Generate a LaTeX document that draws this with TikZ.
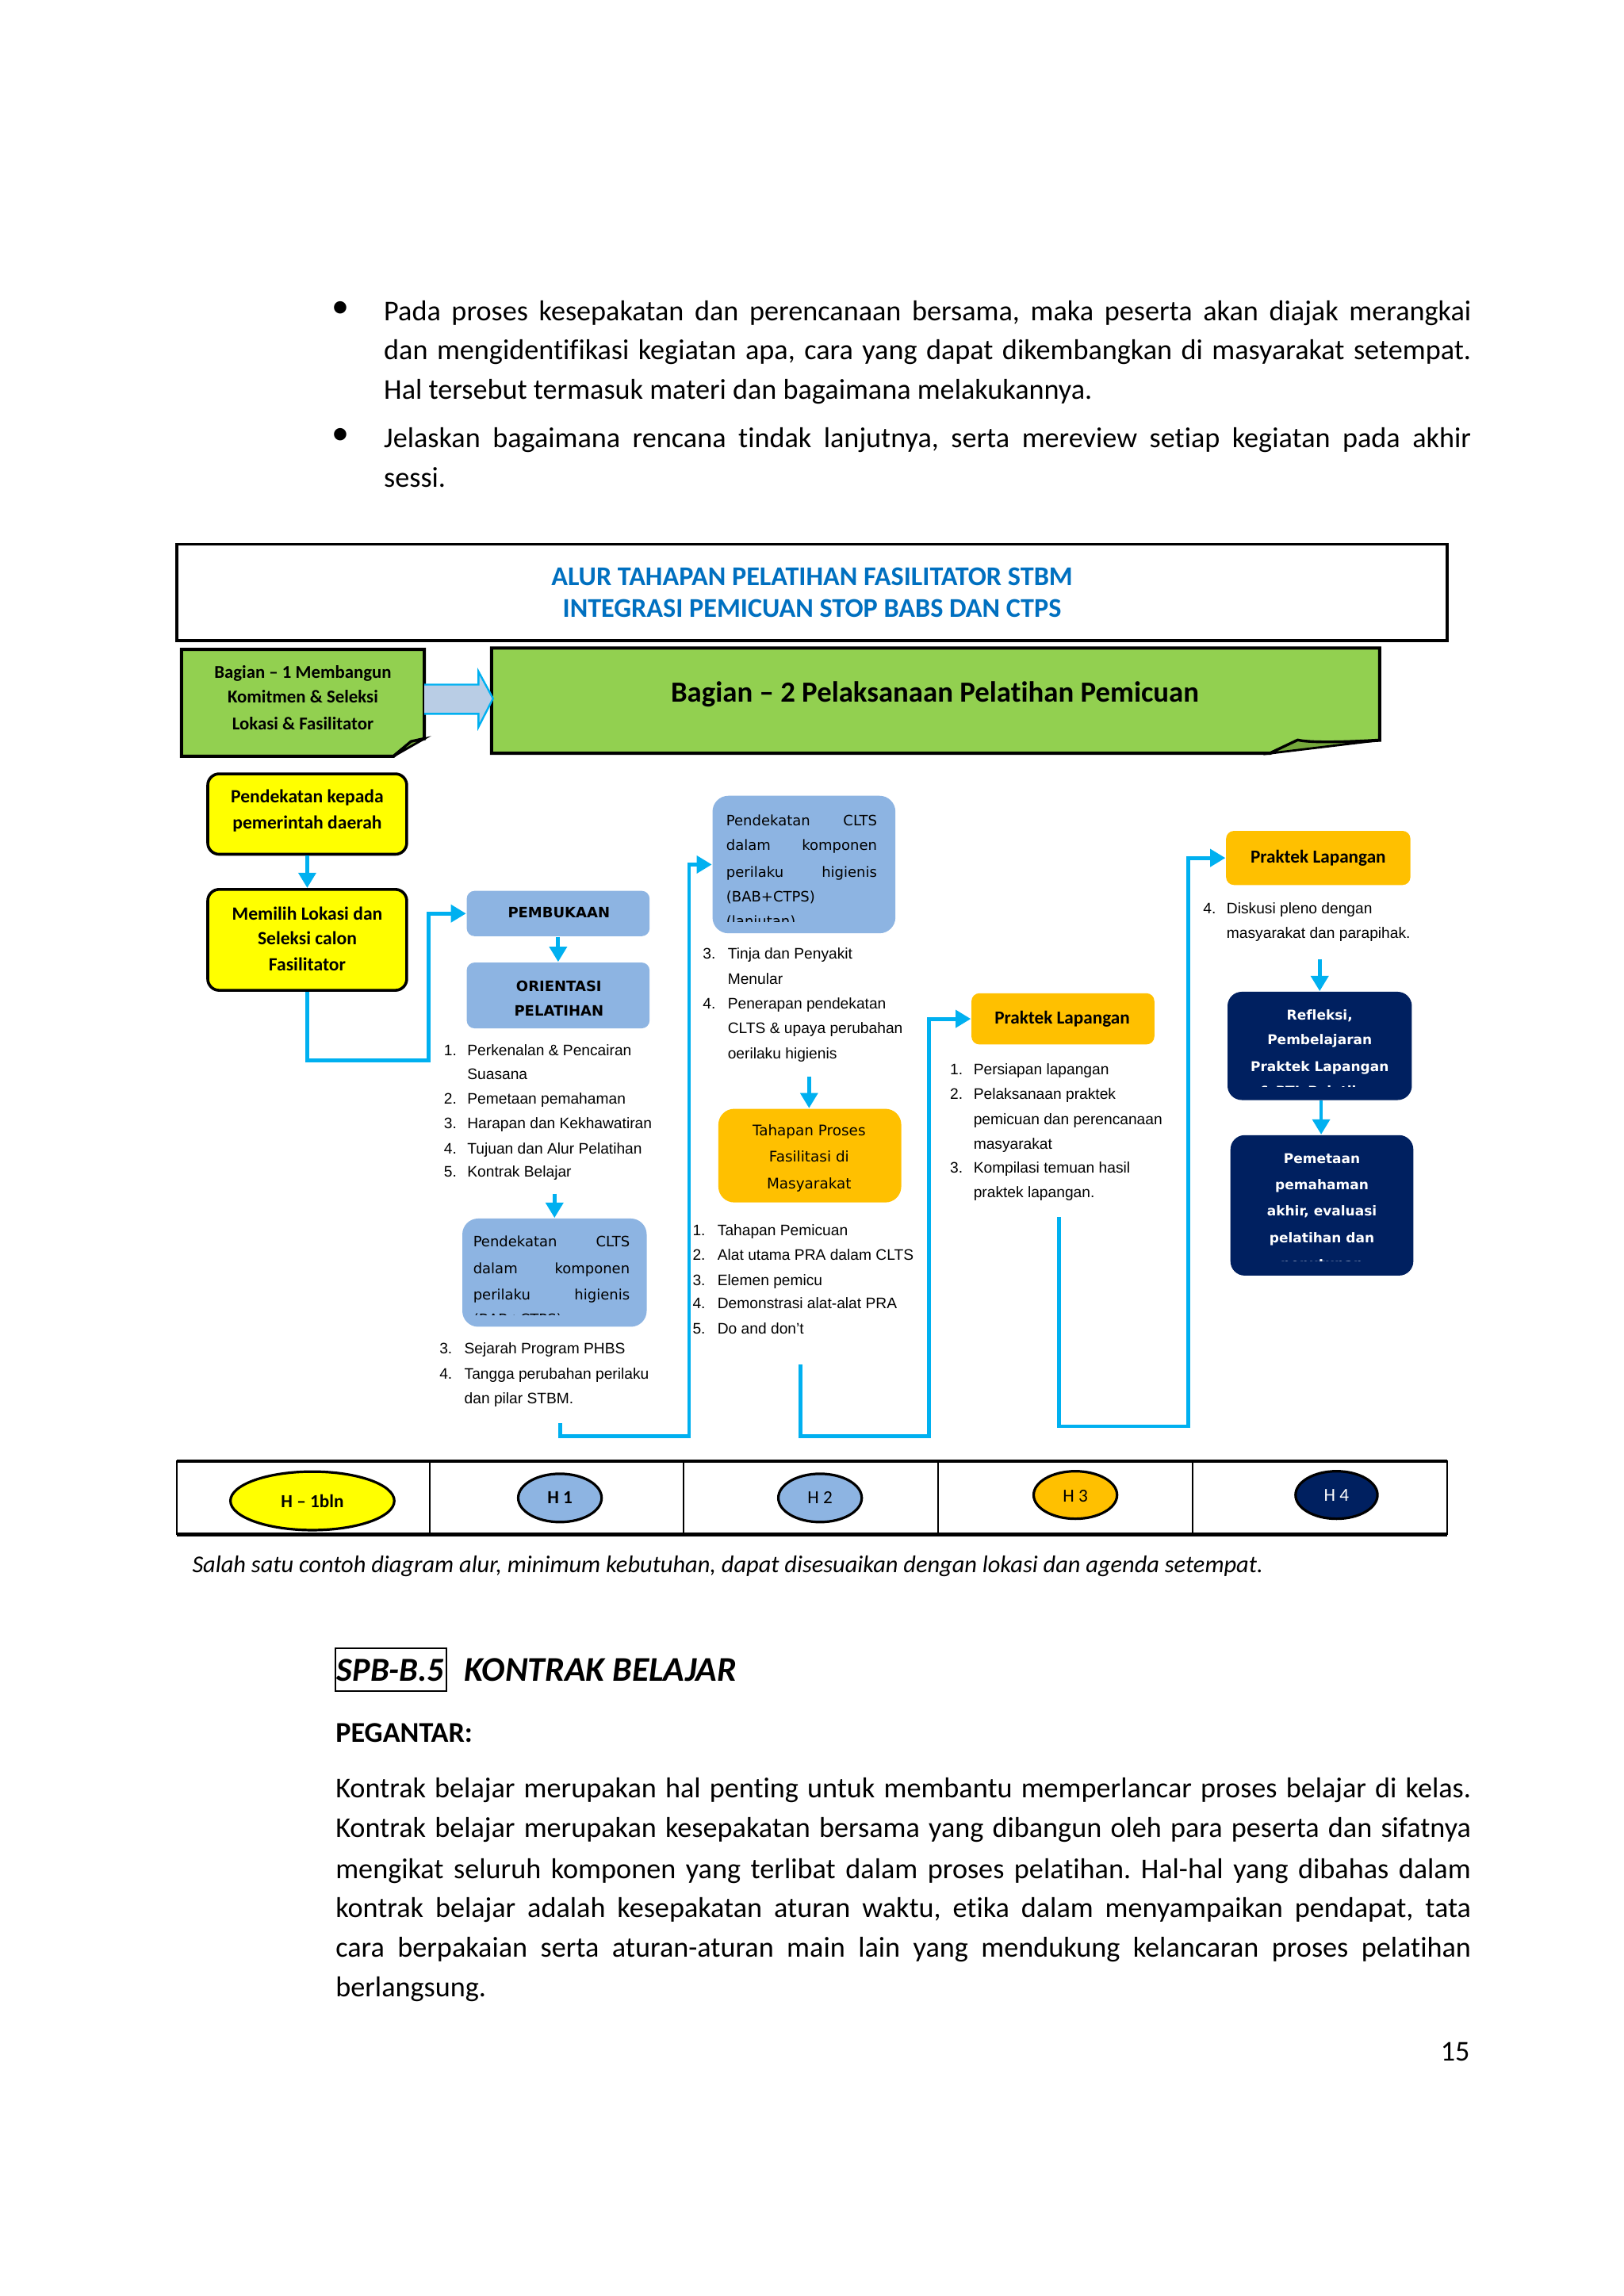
\documentclass[tikz,border=0pt]{standalone}
\usepackage{fontspec}
\setmainfont{Carlito}[Ligatures={TeX,NoCommon}]
\newfontfamily\arialf{Liberation Sans}[Ligatures={TeX,NoCommon}]
\newfontfamily\verdf{DejaVu Sans}[Ligatures={TeX,NoCommon}]
\usetikzlibrary{arrows.meta,fit,shapes.geometric}
\newdimen\upx \upx=0.46126pt
\newcommand\fs[2]{\fontsize{#1pt}{#2pt}\selectfont}
\frenchspacing
\definecolor{cgreen}{RGB}{146,208,80}
\definecolor{cfold}{RGB}{118,168,60}
\definecolor{cyel}{RGB}{255,255,0}
\definecolor{cblue}{RGB}{141,180,226}
\definecolor{corange}{RGB}{255,192,0}
\definecolor{cnavy}{RGB}{0,32,96}
\definecolor{carrow}{RGB}{0,176,240}
\definecolor{ctitle}{RGB}{0,112,192}
\definecolor{cblock}{RGB}{185,205,229}
\tikzset{
  txt/.style={inner sep=0pt, anchor=base west},
  body/.style={txt, font=\frenchspacing\fs{9.05}{12.45}},
  ctr/.style={inner sep=0pt, anchor=base},
  lst/.style={txt, font=\arialf\fs{4.8}{7.7}},
  conn/.style={draw=carrow, line width=1.2pt},
  arr/.style={conn, -{Triangle[width=5.4pt,length=4.8pt]}},
  ybox/.style={draw=black, line width=0.9pt, fill=cyel, rounded corners=3.6pt, inner sep=0pt},
  bbox/.style={fill=cblue, rounded corners=#1, inner sep=0pt},
  bbox/.default=2.5pt,
  obox/.style={fill=corange, rounded corners=#1, inner sep=0pt},
  obox/.default=2.5pt,
  nbox/.style={fill=cnavy, rounded corners=4.5pt, inner sep=0pt},
  ytext/.style={ctr, font=\bfseries\fs{5.9}{8}},
  gtext/.style={ctr, font=\bfseries\fs{5.7}{8}},
  vbold/.style={ctr, font=\verdf\bfseries\fs{4.5}{7}},
  vtext/.style={txt, font=\verdf\fs{4.5}{7}},
  vctr/.style={ctr, font=\verdf\fs{4.6}{7}},
  ntext/.style={ctr, font=\verdf\bfseries\fs{4.25}{7}, text=white},
  pltext/.style={ctr, font=\bfseries\fs{5.8}{8}},
  hell/.style={ellipse, draw=black, line width=0.8pt, inner sep=0pt},
}
\newcommand\litem[6]{\node[lst] (#1n) at (#2,#4+3.7) {#5}; \node[lst] (#1) at (#3,#4+3.7) {#6};}
\newcommand\lcont[4]{\node[lst] (#1) at (#2,#3+3.7) {#4};}
\begin{document}
\begin{tikzpicture}[x=0.46126pt,y=-0.46126pt]
\useasboundingbox (0,0) rectangle (1110,1569.6);
\fill[white] (0,0) rectangle (1110,1569.6);

% ---------- top bullets ----------
\node[ctr, font=\fs{11}{11}] (bul1) at (233,217) {•};
\node[body] (p1) at (262,219) {\makebox[743\upx][s]{Pada proses kesepakatan dan perencanaan bersama, maka peserta akan diajak merangkai}};
\node[body] (p2) at (262,246) {\makebox[743\upx][s]{dan mengidentifikasi kegiatan apa, cara yang dapat dikembangkan di masyarakat setempat.}};
\node[body] (p3) at (262,273) {Hal tersebut termasuk materi dan bagaimana melakukannya.};
\node[ctr, font=\fs{11}{11}] (bul2) at (233,304) {•};
\node[body] (p4) at (262,306) {\makebox[743\upx][s]{Jelaskan bagaimana rencana tindak lanjutnya, serta mereview setiap kegiatan pada akhir}};
\node[body] (p5) at (262,333) {sessi.};

% ---------- title ----------
\node[draw=black, line width=0.9pt, fit={(121,372) (989,438)}, inner sep=0pt] (titlebox) {};
\node[inner sep=0pt, font=\bfseries\fs{8.55}{10}, text=ctitle] (title1) at (555,394) {ALUR TAHAPAN PELATIHAN FASILITATOR STBM};
\node[inner sep=0pt, font=\bfseries\fs{8.55}{10}, text=ctitle] (title2) at (555,416) {INTEGRASI PEMICUAN STOP BABS DAN CTPS};

% ---------- Bagian 1 / 2 ----------
\filldraw[fill=cgreen, draw=black, line width=1pt] (124,444) -- (290,444) -- (290,505) -- (281,507) -- (269,517) -- (124,517) -- cycle;
\filldraw[fill=cfold, draw=black, line width=0.7pt] (269,517) -- (281,507) -- (290,505) -- cycle;
\node[gtext] (b1t1) at (207,463.7) {Bagian – 1 Membangun};
\node[gtext] (b1t2) at (207,480.7) {Komitmen \& Seleksi};
\node[gtext] (b1t3) at (207,498.7) {Lokasi \& Fasilitator};

\filldraw[fill=cgreen, draw=black, line width=1pt] (336,443) -- (943,443) -- (943,506) .. controls (920,507.5) and (895,508) .. (887,506) -- (868,515) -- (336,515) -- cycle;
\filldraw[fill=cfold, draw=black, line width=0.7pt] (868,515) -- (887,506) .. controls (895,508) and (920,507.5) .. (943,506) -- cycle;
\node[ctr, font=\bfseries\fs{9.2}{11}] (b2t) at (639,480) {Bagian – 2 Pelaksanaan Pelatihan Pemicuan};

\fill[cblock] (290,468) -- (327,468) -- (327,459) -- (337,477.5) -- (327,497) -- (327,488) -- (290,488) -- cycle;
\draw[carrow, line width=0.6pt] (290,468) -- (327,468) -- (327,459) -- (337,477.5) -- (327,497) -- (327,488) -- (290,488);

% ---------- column 1 ----------
\node[ybox, fit={(142,529) (278,584)}] (y1) {};
\node[ytext] (y1t1) at (210,548.8) {Pendekatan kepada};
\node[ytext] (y1t2) at (210,566.8) {pemerintah daerah};
\node[ybox, fit={(142,608) (278,677)}] (y2) {};
\node[ytext] (y2t1) at (210,628.8) {Memilih Lokasi dan};
\node[ytext] (y2t2) at (210,645.8) {Seleksi calon};
\node[ytext] (y2t3) at (210,663.8) {Fasilitator};

% ---------- column 2 ----------
\node[bbox, fit={(319,609) (444,640)}] (pemb) {};
\node[vbold] (pembt) at (382,627.6) {PEMBUKAAN};
\node[bbox, fit={(319,658) (444,703)}] (orient) {};
\node[vbold] (ort1) at (382,677.6) {ORIENTASI};
\node[vbold] (ort2) at (382,694.6) {PELATIHAN};

\litem{la1}{303}{319}{718}{1.}{Perkenalan \& Pencairan}
\lcont{la1b}{319}{734}{Suasana}
\litem{la2}{303}{319}{751}{2.}{Pemetaan pemahaman}
\litem{la3}{303}{319}{768}{3.}{Harapan dan Kekhawatiran}
\litem{la4}{303}{319}{785}{4.}{Tujuan dan Alur Pelatihan}
\litem{la5}{303}{319}{801}{5.}{Kontrak Belajar}

\node[bbox=5pt, fit={(316,833) (442,907)}] (blueA) {};
\begin{scope}
\clip (316,833) rectangle (442,899);
\node[vtext] (ba1) at (323,852.5) {\makebox[107\upx][s]{Pendekatan CLTS}};
\node[vtext] (ba2) at (323,870.5) {\makebox[107\upx][s]{dalam komponen}};
\node[vtext] (ba3) at (323,888.5) {\makebox[107\upx][s]{perilaku higienis}};
\node[vtext] (ba4) at (323,905.5) {(BAB+CTPS)};
\end{scope}

\litem{lb1}{300}{317}{922}{3.}{Sejarah Program PHBS}
\litem{lb2}{300}{317}{939}{4.}{Tangga perubahan perilaku}
\lcont{lb2b}{317}{956}{dan pilar STBM.}

% ---------- column 3 ----------
\node[bbox=5pt, fit={(487,544) (612,638)}] (blueB) {};
\begin{scope}
\clip (487,544) rectangle (612,630);
\node[vtext] (bb1) at (496,564.5) {\makebox[103\upx][s]{Pendekatan CLTS}};
\node[vtext] (bb2) at (496,581.5) {\makebox[103\upx][s]{dalam komponen}};
\node[vtext] (bb3) at (496,599.5) {\makebox[103\upx][s]{perilaku higienis}};
\node[vtext] (bb4) at (496,616.5) {(BAB+CTPS)};
\node[vtext] (bb5) at (496,633.5) {(lanjutan)};
\end{scope}

\litem{lc1}{480}{497}{652}{3.}{Tinja dan Penyakit}
\lcont{lc1b}{497}{669}{Menular}
\litem{lc2}{480}{497}{686}{4.}{Penerapan pendekatan}
\lcont{lc2b}{497}{703}{CLTS \& upaya perubahan}
\lcont{lc2c}{497}{720}{oerilaku higienis}

\node[obox=5pt, fit={(491,758) (616,822)}] (tahap) {};
\node[vctr] (tp1) at (553,776.5) {Tahapan Proses};
\node[vctr] (tp2) at (553,794.5) {Fasilitasi di};
\node[vctr] (tp3) at (553,812.5) {Masyarakat};

\litem{ld1}{473}{490}{841}{1.}{Tahapan Pemicuan}
\litem{ld2}{473}{490}{858}{2.}{Alat utama PRA dalam CLTS}
\litem{ld3}{473}{490}{875}{3.}{Elemen pemicu}
\litem{ld4}{473}{490}{891}{4.}{Demonstrasi alat-alat PRA}
\litem{ld5}{473}{490}{908}{5.}{Do and don’t}

% ---------- column 4 ----------
\node[obox, fit={(664,679) (789,714)}] (pl1) {};
\node[pltext] (pl1t) at (726,699.8) {Praktek Lapangan};
\litem{le1}{649}{665}{731}{1.}{Persiapan lapangan}
\litem{le2}{649}{665}{748}{2.}{Pelaksanaan praktek}
\lcont{le2b}{665}{765}{pemicuan dan perencanaan}
\lcont{le2c}{665}{782}{masyarakat}
\litem{le3}{649}{665}{798}{3.}{Kompilasi temuan hasil}
\lcont{le3b}{665}{815}{praktek lapangan.}

% ---------- column 5 ----------
\node[obox, fit={(838,568) (964,605)}] (pl2) {};
\node[pltext] (pl2t) at (901,589.8) {Praktek Lapangan};
\litem{lf1}{822}{838}{621}{4.}{Diskusi pleno dengan}
\lcont{lf1b}{838}{638}{masyarakat dan parapihak.}

\node[nbox, fit={(839,678) (965,752)}] (nav1) {};
\begin{scope}
\clip (839,678) rectangle (965,743);
\node[ntext] (nv1) at (902,697.3) {Refleksi,};
\node[ntext] (nv2) at (902,714.3) {Pembelajaran};
\node[ntext] (nv3) at (902,732.3) {Praktek Lapangan};
\node[ntext] (nv4) at (902,749.3) {\& RTL Pelatihan};
\end{scope}
\node[nbox, fit={(841,776) (966,872)}] (nav2) {};
\begin{scope}
\clip (841,776) rectangle (966,862);
\node[ntext] (nw1) at (903.5,795.3) {Pemetaan};
\node[ntext] (nw2) at (903.5,813.3) {pemahaman};
\node[ntext] (nw3) at (903.5,831.3) {akhir, evaluasi};
\node[ntext] (nw4) at (903.5,849.3) {pelatihan dan};
\node[ntext] (nw5) at (903.5,867.3) {penutupan};
\end{scope}

% ---------- connectors ----------
\draw[arr] (y1.south) -- (y2.north);
\coordinate (c1a) at (210,725);
\coordinate (c1b) at (293,725);
\draw[arr] (y2.south) -- (c1a) -- (c1b) |- (pemb.west);
\draw[arr] (pemb.south) -- (orient.north);
\coordinate (la5s) at (379,816);
\draw[arr] (la5s) -- (la5s |- blueA.north);
\coordinate (lb2s) at (383,973);
\coordinate (c2a) at (383,982);
\coordinate (c2b) at (471,982);
\draw[arr] (lb2s) -- (c2a) -- (c2b) |- (blueB.west);
\coordinate (lc2s) at (553,736);
\draw[arr] (lc2s) -- (lc2s |- tahap.north);
\coordinate (ld5s) at (547,933);
\coordinate (c3a) at (547,982);
\coordinate (c3b) at (635,982);
\draw[arr] (ld5s) -- (c3a) -- (c3b) |- (pl1.west);
\coordinate (le3s) at (724,832);
\coordinate (c4a) at (724,975);
\coordinate (c4b) at (812,975);
\draw[arr] (le3s) -- (c4a) -- (c4b) |- (pl2.west);
\coordinate (lf1s) at (902,656);
\draw[arr] (lf1s) -- (lf1s |- nav1.north);
\coordinate (nav1s) at (903,752);
\draw[arr] (nav1s) -- (nav1s |- nav2.north);

% ---------- day table ----------
\draw[line width=0.5pt] (121,999) rectangle (989,1049);
\draw[line width=1.1pt] (121,999) -- (989,999);
\draw[line width=1.1pt] (121,1049) -- (989,1049);
\foreach \xx in {294,467,641,815} \draw[line width=0.5pt] (\xx,999) -- (\xx,1049);
\node[hell, fill=cyel, minimum width=112\upx, minimum height=40\upx] (e0) at (213.5,1026) {};
\node[inner sep=0pt, font=\bfseries\fs{5.8}{7}] (e0t) at (e0) {H – 1bln};
\node[hell, fill=cblue, minimum width=57\upx, minimum height=33\upx] (e1) at (382.7,1024) {};
\node[inner sep=0pt, font=\bfseries\fs{5.8}{7}] (e1t) at (e1) {H 1};
\node[hell, fill=cblue, minimum width=57\upx, minimum height=33\upx] (e2) at (560.5,1024) {};
\node[inner sep=0pt, font=\fs{5.8}{7}] (e2t) at (e2) {H 2};
\node[hell, fill=corange, minimum width=57\upx, minimum height=32.5\upx] (e3) at (735,1022) {};
\node[inner sep=0pt, font=\fs{5.8}{7}] (e3t) at (735,1023) {H 3};
\node[hell, fill=cnavy, minimum width=56\upx, minimum height=32.5\upx] (e4) at (913.5,1022) {};
\node[inner sep=0pt, font=\fs{5.8}{7}, text=white] (e4t) at (e4) {H 4};

% ---------- caption & section ----------
\node[txt, font=\itshape\fs{7.6}{9}] (cap) at (131,1075) {Salah satu contoh diagram alur, minimum kebutuhan, dapat disesuaikan dengan lokasi dan agenda setempat.};

\node[draw=black, line width=0.5pt, fit={(229,1127) (305,1156)}, inner sep=0pt] (spbbox) {};
\node[ctr, font=\bfseries\itshape\fs{10.6}{12}] (spb) at (267,1149.4) {SPB-B.5};
\node[txt, font=\bfseries\itshape\fs{10.95}{12}] (kb) at (317,1149.4) {KONTRAK BELAJAR};
\node[txt, font=\bfseries\fs{9.05}{12.45}] (peg) at (229,1191) {PEGANTAR:};

\node[body] (q1) at (229,1229) {\makebox[776\upx][s]{Kontrak belajar merupakan hal penting untuk membantu memperlancar proses belajar di kelas.}};
\node[body] (q2) at (229,1256) {\makebox[776\upx][s]{Kontrak belajar merupakan kesepakatan bersama yang dibangun oleh para peserta dan sifatnya}};
\node[body] (q3) at (229,1284) {\makebox[776\upx][s]{mengikat seluruh komponen yang terlibat dalam proses pelatihan. Hal-hal yang dibahas dalam}};
\node[body] (q4) at (229,1311) {\makebox[776\upx][s]{kontrak belajar adalah kesepakatan aturan waktu, etika dalam menyampaikan pendapat, tata}};
\node[body] (q5) at (229,1338) {\makebox[776\upx][s]{cara berpakaian serta aturan-aturan main lain yang mendukung kelancaran proses pelatihan}};
\node[body] (q6) at (229,1365) {berlangsung.};
\node[inner sep=0pt, anchor=base east, font=\fs{9.05}{12.45}] (pgno) at (1005,1409) {15};
\end{tikzpicture}
\end{document}
